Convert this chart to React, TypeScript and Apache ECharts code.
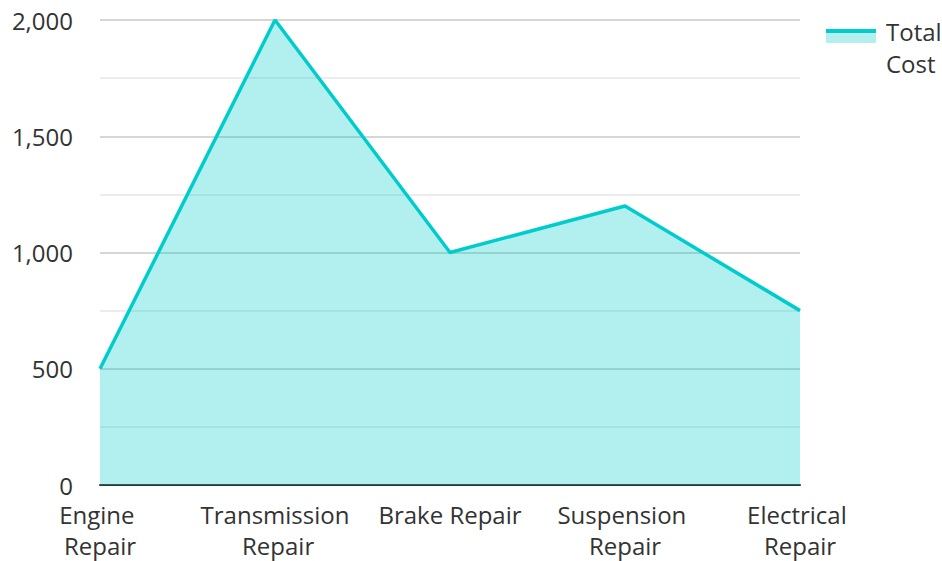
import React, { useEffect, useRef } from "react";
import * as echarts from "echarts";

const categories = ["Engine Repair", "Transmission Repair", "Brake Repair", "Suspension Repair", "Electrical Repair"];
const totalCost = [500, 2000, 1000, 1200, 750];
const seriesName = "Total Cost";

const LINE = "#00cccc";
const FILL = "#b2efee";
const FONT = "Open Sans";

export default function App() {
  const ref = useRef<HTMLDivElement>(null);
  useEffect(() => {
    if (!ref.current) return;
    const chart = echarts.init(ref.current, null, { renderer: "svg" });
    chart.setOption({
      animation: false,
      textStyle: { fontFamily: FONT },
      grid: { left: 100, right: 142, top: 20, bottom: 74, containLabel: false },
      legend: {
        data: [seriesName],
        left: 826,
        top: 3,
        padding: 0,
        icon: "rect",
        itemWidth: 50,
        itemHeight: 14,
        itemStyle: { color: "rgba(0,0,0,0)", borderWidth: 0 },
        lineStyle: { opacity: 0 },
        textStyle: {
          fontFamily: FONT,
          fontSize: 24,
          color: "#333",
          lineHeight: 32,
          width: 70,
          overflow: "break",
          padding: [24, 0, 0, 5],
        },
      },
      graphic: [
        { type: "rect", left: 826, top: 29, z: 100, shape: { width: 50, height: 14 }, style: { fill: FILL } },
        { type: "rect", left: 826, top: 29, z: 101, shape: { width: 50, height: 4 }, style: { fill: LINE } },
      ],
      xAxis: {
        type: "category",
        data: categories,
        boundaryGap: false,
        axisLine: { lineStyle: { color: "#333", width: 2 } },
        axisTick: { show: false },
        axisLabel: {
          fontFamily: FONT,
          fontSize: 24,
          color: "#333",
          lineHeight: 31,
          margin: 14,
          width: 150,
          overflow: "break",
          interval: 0,
        },
      },
      yAxis: {
        type: "value",
        min: 0,
        max: 2000,
        interval: 500,
        axisLine: { show: false },
        axisTick: { show: false },
        axisLabel: {
          fontFamily: FONT,
          fontSize: 24,
          color: "#333",
          margin: 27,
          formatter: (v: number) => v.toLocaleString("en-US"),
        },
        splitLine: { show: true, lineStyle: { color: "#c8c8c8", width: 1.5 } },
        minorTick: { show: false, splitNumber: 2 },
        minorSplitLine: { show: true, lineStyle: { color: "#e6e6e6", width: 1.5 } },
      },
      series: [
        {
          name: seriesName,
          type: "line",
          data: totalCost,
          symbol: "none",
          showSymbol: false,
          lineStyle: { color: LINE, width: 3.5 },
          itemStyle: { color: FILL },
          areaStyle: { color: LINE, opacity: 0.3 },
        },
      ],
    });
    return () => chart.dispose();
  }, []);
  return <div ref={ref} style={{ width: 942, height: 561, position: "absolute", left: 0, top: 0 }} />;
}
